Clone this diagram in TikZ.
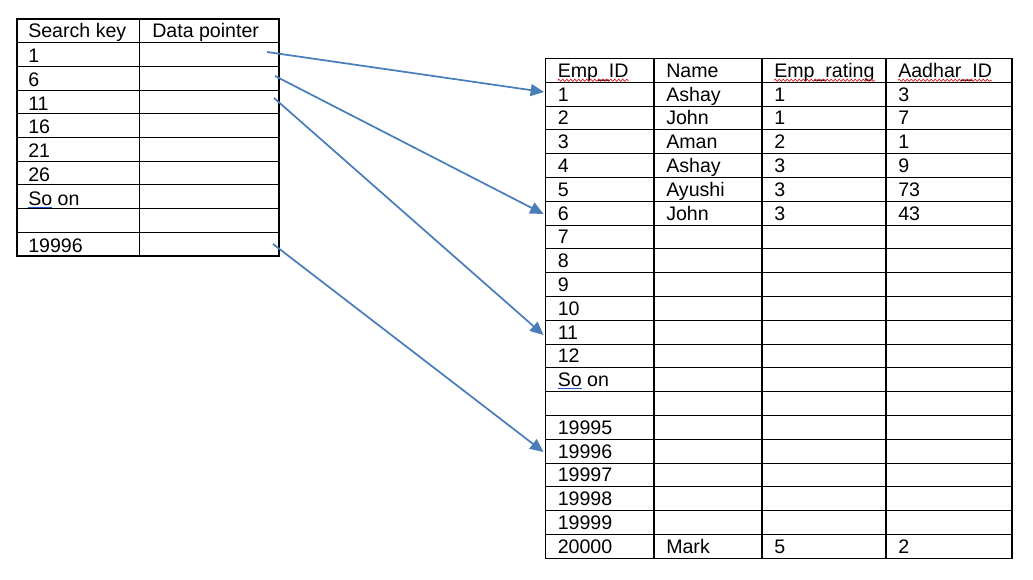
\documentclass[tikz,border=0pt]{standalone}
\usepackage{amsmath}
\usepackage{amssymb}
\usepackage{fontspec}
\setmainfont{Liberation Sans}
\usepackage{tikz}
\usetikzlibrary{arrows.meta,calc,decorations.pathmorphing}

\definecolor{ptrblue}{RGB}{74,126,187}
\definecolor{spellred}{RGB}{222,30,30}
\definecolor{ulblue}{RGB}{40,80,200}

\tikzset{
  tbl/.style={line width=0.8pt},
  cell/.style={anchor=base west,inner sep=0pt},
  ptr/.style={color=ptrblue,line width=1.3pt,-{Triangle[length=10pt,width=9pt]}},
  wavy/.style={color=spellred,line width=0.5pt,decorate,decoration={snake,amplitude=0.9pt,segment length=3pt}},
  soline/.style={color=ulblue,line width=0.6pt}
}

\begin{document}
\begin{tikzpicture}[x=0.75pt,y=0.75pt,yscale=-1,xscale=1,font=\fontsize{14.7}{17}\selectfont]
\useasboundingbox (0,0) rectangle (1033,580); %set diagram to the page size

%Shape: Rectangle [index table]
\draw [tbl] (17,19) -- (279,19) -- (279,256) -- (17,256) -- cycle ;
\draw [tbl] (139.5,19) -- (139.5,256) ;
\draw [tbl] (17,42.7) -- (279,42.7) ;
\draw [tbl] (17,66.4) -- (279,66.4) ;
\draw [tbl] (17,90.1) -- (279,90.1) ;
\draw [tbl] (17,113.8) -- (279,113.8) ;
\draw [tbl] (17,137.5) -- (279,137.5) ;
\draw [tbl] (17,161.2) -- (279,161.2) ;
\draw [tbl] (17,184.9) -- (279,184.9) ;
\draw [tbl] (17,208.6) -- (279,208.6) ;
\draw [tbl] (17,232.3) -- (279,232.3) ;

%Shape: Rectangle [employee table]
\draw [tbl] (545.5,58.5) -- (1012,58.5) -- (1012,558.3) -- (545.5,558.3) -- cycle ;
\draw [tbl] (654,58.5) -- (654,558.3) ;
\draw [tbl] (762,58.5) -- (762,558.3) ;
\draw [tbl] (886,58.5) -- (886,558.3) ;
\draw [tbl] (545.5,82.3) -- (1012,82.3) ;
\draw [tbl] (545.5,106.1) -- (1012,106.1) ;
\draw [tbl] (545.5,129.9) -- (1012,129.9) ;
\draw [tbl] (545.5,153.7) -- (1012,153.7) ;
\draw [tbl] (545.5,177.5) -- (1012,177.5) ;
\draw [tbl] (545.5,201.3) -- (1012,201.3) ;
\draw [tbl] (545.5,225.1) -- (1012,225.1) ;
\draw [tbl] (545.5,248.9) -- (1012,248.9) ;
\draw [tbl] (545.5,272.7) -- (1012,272.7) ;
\draw [tbl] (545.5,296.5) -- (1012,296.5) ;
\draw [tbl] (545.5,320.3) -- (1012,320.3) ;
\draw [tbl] (545.5,344.1) -- (1012,344.1) ;
\draw [tbl] (545.5,367.9) -- (1012,367.9) ;
\draw [tbl] (545.5,391.7) -- (1012,391.7) ;
\draw [tbl] (545.5,415.5) -- (1012,415.5) ;
\draw [tbl] (545.5,439.3) -- (1012,439.3) ;
\draw [tbl] (545.5,463.1) -- (1012,463.1) ;
\draw [tbl] (545.5,486.9) -- (1012,486.9) ;
\draw [tbl] (545.5,510.7) -- (1012,510.7) ;
\draw [tbl] (545.5,534.5) -- (1012,534.5) ;

% Text Node [index table]
\draw (28,37.5) node (skhead) [cell] {Search key};
\draw (152,37.5) node (dphead) [cell] {Data pointer};
\draw (28,63) node (sk1) [cell] {1};
\draw (28,86.6) node (sk6) [cell] {6};
\draw (28,110.3) node (sk11) [cell] {11};
\draw (28,134) node (sk16) [cell] {16};
\draw (28,157.7) node (sk21) [cell] {21};
\draw (28,181.4) node (sk26) [cell] {26};
\draw (28,205.1) node (skso) [cell] {So on};
\draw (28,252.5) node (sklast) [cell] {19996};

% Text Node [employee table header]
\draw (557.5,77.3) node (hid) [cell] {Emp\_ID};
\draw (666,77.3) node (hname) [cell] {Name};
\draw (774,77.3) node (hrating) [cell] {Emp\_rating};
\draw (898,77.3) node (haadhar) [cell] {Aadhar\_ID};

% Text Node [employee rows]
\draw (557.5,101.1) node (id1) [cell] {1};
\draw (666,101.1) node (nm1) [cell] {Ashay};
\draw (774,101.1) node (rt1) [cell] {1};
\draw (898,101.1) node (ad1) [cell] {3};
\draw (557.5,124.9) node (id2) [cell] {2};
\draw (666,124.9) node (nm2) [cell] {John};
\draw (774,124.9) node (rt2) [cell] {1};
\draw (898,124.9) node (ad2) [cell] {7};
\draw (557.5,148.7) node (id3) [cell] {3};
\draw (666,148.7) node (nm3) [cell] {Aman};
\draw (774,148.7) node (rt3) [cell] {2};
\draw (898,148.7) node (ad3) [cell] {1};
\draw (557.5,172.5) node (id4) [cell] {4};
\draw (666,172.5) node (nm4) [cell] {Ashay};
\draw (774,172.5) node (rt4) [cell] {3};
\draw (898,172.5) node (ad4) [cell] {9};
\draw (557.5,196.3) node (id5) [cell] {5};
\draw (666,196.3) node (nm5) [cell] {Ayushi};
\draw (774,196.3) node (rt5) [cell] {3};
\draw (898,196.3) node (ad5) [cell] {73};
\draw (557.5,220.1) node (id6) [cell] {6};
\draw (666,220.1) node (nm6) [cell] {John};
\draw (774,220.1) node (rt6) [cell] {3};
\draw (898,220.1) node (ad6) [cell] {43};
\draw (557.5,243.9) node (id7) [cell] {7};
\draw (557.5,267.7) node (id8) [cell] {8};
\draw (557.5,291.5) node (id9) [cell] {9};
\draw (557.5,315.3) node (id10) [cell] {10};
\draw (557.5,339.1) node (id11) [cell] {11};
\draw (557.5,362.9) node (id12) [cell] {12};
\draw (557.5,386.7) node (idso) [cell] {So on};
\draw (557.5,434.3) node (id19995) [cell] {19995};
\draw (557.5,458.1) node (id19996) [cell] {19996};
\draw (557.5,481.9) node (id19997) [cell] {19997};
\draw (557.5,505.7) node (id19998) [cell] {19998};
\draw (557.5,529.5) node (id19999) [cell] {19999};
\draw (557.5,553.3) node (id20000) [cell] {20000};
\draw (666,553.3) node (nm20000) [cell] {Mark};
\draw (774,553.3) node (rt20000) [cell] {5};
\draw (898,553.3) node (ad20000) [cell] {2};

%Spelling marks
\draw [wavy] ($(hid.base west)+(0,3)$) -- ($(hid.base east)+(0,3)$) ;
\draw [wavy] ($(hrating.base west)+(0,3)$) -- ($(hrating.base east)+(0,3)$) ;
\draw [wavy] ($(haadhar.base west)+(0,3)$) -- ($(haadhar.base east)+(0,3)$) ;
\draw [soline] ($(skso.base west)+(0,2)$) -- ++(24,0) ;
\draw [soline] ($(idso.base west)+(0,2)$) -- ++(24,0) ;

%Straight Lines [pointers]
\coordinate (p1) at (267,52);
\coordinate (p6) at (275,76);
\coordinate (p11) at (274,98);
\coordinate (p19996) at (273,244);
\coordinate (t1) at (544,92);
\coordinate (t6) at (543.5,214);
\coordinate (t11) at (543.5,335);
\coordinate (t19996) at (543.5,452);
\draw [ptr] (p1) -- (t1) ;
\draw [ptr] (p6) -- (t6) ;
\draw [ptr] (p11) -- (t11) ;
\draw [ptr] (p19996) -- (t19996) ;
\end{tikzpicture}
\end{document}
